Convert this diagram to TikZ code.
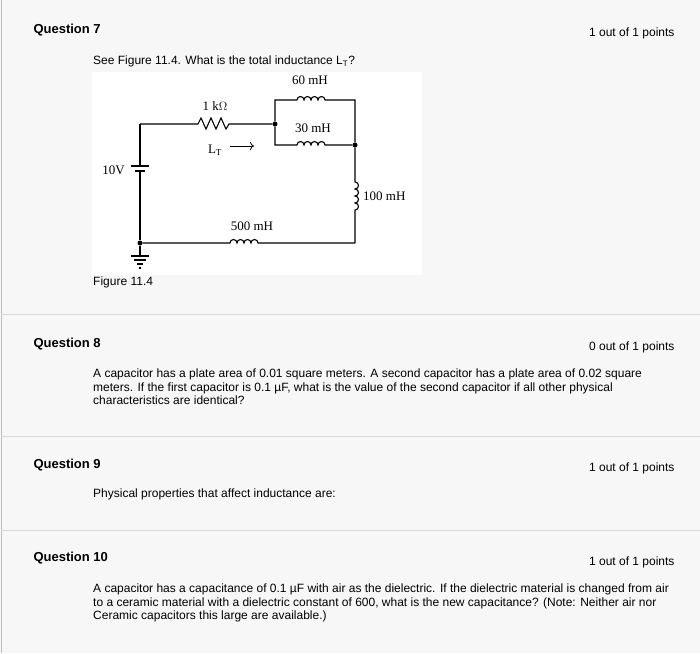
\documentclass[tikz,border=0pt]{standalone}
\usepackage{fontspec}
\usetikzlibrary{arrows.meta}
\setmainfont{Liberation Sans}
\newfontfamily\serifcirc{Liberation Serif}
\begin{document}
\begin{tikzpicture}[x=1pt,y=-1pt,
  q/.style={anchor=base west,font=\fontsize{13}{15}\selectfont\bfseries},
  pts/.style={anchor=base east,font=\fontsize{12}{14}\selectfont},
  body/.style={anchor=north west,font=\fontsize{12}{13.5}\selectfont,align=left,inner sep=0pt},
  lab/.style={font=\serifcirc\fontsize{13}{15}\selectfont,inner sep=1pt},
  w/.style={line width=1.1pt,black},
  dot/.style={circle,fill=black,inner sep=0pt,minimum size=5pt}]
\useasboundingbox (0,0) rectangle (700,653);
\fill[black!3] (0,0) rectangle (700,653);
\draw[black!25] (1,0) -- (1,653);
\foreach \y in {314,436,530} \draw[black!15,line width=1pt] (1,\y) -- (700,\y);
\fill[white] (92,72) rectangle (422,275);
% headers
\node[q] (q7) at (30,33) {Question 7};
\node[pts] (p7) at (678,36) {1 out of 1 points};
\node[body] (t7) at (93,56) {See Figure 11.4. What is the total inductance L\textsubscript{T}?};
\node[q] (q8) at (30,347) {Question 8};
\node[pts] (p8) at (678,350) {0 out of 1 points};
\node[body] (t8) at (93,369) {A capacitor has a plate area of 0.01 square meters. A second capacitor has a plate area of 0.02 square\\meters. If the first capacitor is 0.1 µF, what is the value of the second capacitor if all other physical\\characteristics are identical?};
\node[q] (q9) at (30,468) {Question 9};
\node[pts] (p9) at (678,471) {1 out of 1 points};
\node[body] (t9) at (93,489) {Physical properties that affect inductance are:};
\node[q] (q10) at (30,561) {Question 10};
\node[pts] (p10) at (678,565) {1 out of 1 points};
\node[body] (t10) at (93,584) {A capacitor has a capacitance of 0.1 µF with air as the dielectric. If the dielectric material is changed from air\\to a ceramic material with a dielectric constant of 600, what is the new capacitance? (Note: Neither air nor\\Ceramic capacitors this large are available.)};
\node[anchor=base west,font=\fontsize{12}{14}\selectfont,inner sep=0pt] (fig) at (93,285) {Figure 11.4};
% circuit coordinates
\coordinate (tl) at (140,124);
\node[dot] (j1) at (275,124) {};
\node[dot] (j2) at (355,145) {};
\node[dot] (j3) at (140,243) {};
\coordinate (ptl) at (275,100);
\coordinate (ptr) at (355,100);
\coordinate (pbl) at (275,145);
\coordinate (br) at (355,243);
% left wire with battery
\draw[w] (tl) -- (140,166);
\draw[w] (131,166) -- (149,166);
\draw[w] (135,171) -- (145,171);
\draw[w] (140,171) -- (j3);
% ground
\draw[w] (j3) -- (140,256);
\draw[w] (131,256) -- (149,256) (134,260) -- (146,260) (137,264) -- (143,264) (139,268)--(141,268);
% resistor
\draw[w] (tl) -- (198,124) -- (201,118) -- (206,129) -- (211,118) -- (216,129) -- (221,118) -- (226,129) -- (229,124) -- (j1);
% parallel branches
\draw[w] (j1) -- (ptl) -- (297,100)
  arc[start angle=180,end angle=360,radius=3.5] arc[start angle=180,end angle=360,radius=3.5]
  arc[start angle=180,end angle=360,radius=3.5] arc[start angle=180,end angle=360,radius=3.5]
  -- (ptr) -- (j2);
\draw[w] (j1) -- (pbl) -- (297,145)
  arc[start angle=180,end angle=360,radius=3.5] arc[start angle=180,end angle=360,radius=3.5]
  arc[start angle=180,end angle=360,radius=3.5] arc[start angle=180,end angle=360,radius=3.5]
  -- (j2);
% 100 mH
\draw[w] (j2) -- (355,182)
  arc[start angle=-90,end angle=90,radius=3.5] arc[start angle=-90,end angle=90,radius=3.5]
  arc[start angle=-90,end angle=90,radius=3.5] arc[start angle=-90,end angle=90,radius=3.5]
  -- (br);
% 500 mH
\draw[w] (br) -- (258,243)
  arc[start angle=0,end angle=-180,radius=3.5] arc[start angle=0,end angle=-180,radius=3.5]
  arc[start angle=0,end angle=-180,radius=3.5] arc[start angle=0,end angle=-180,radius=3.5]
  -- (j3);
% labels
\node[lab] (l60) at (310,80) {60 mH};
\node[lab] (l30) at (313,128) {30 mH};
\node[lab] (l1k) at (215,106) {1 k$\Omega$};
\node[lab] (lt) at (215,150) {L\textsubscript{T}};
\coordinate (a1) at (230,146);
\coordinate (a2) at (254,146);
\draw[line width=0.8pt,-{To[length=4pt,width=8pt]}] (a1) -- (a2);
\node[lab,anchor=east] (l10) at (126,170) {10V};
\node[lab,anchor=west] (l100) at (362,196) {100 mH};
\node[lab] (l500) at (252,226) {500 mH};
\end{tikzpicture}
\end{document}
